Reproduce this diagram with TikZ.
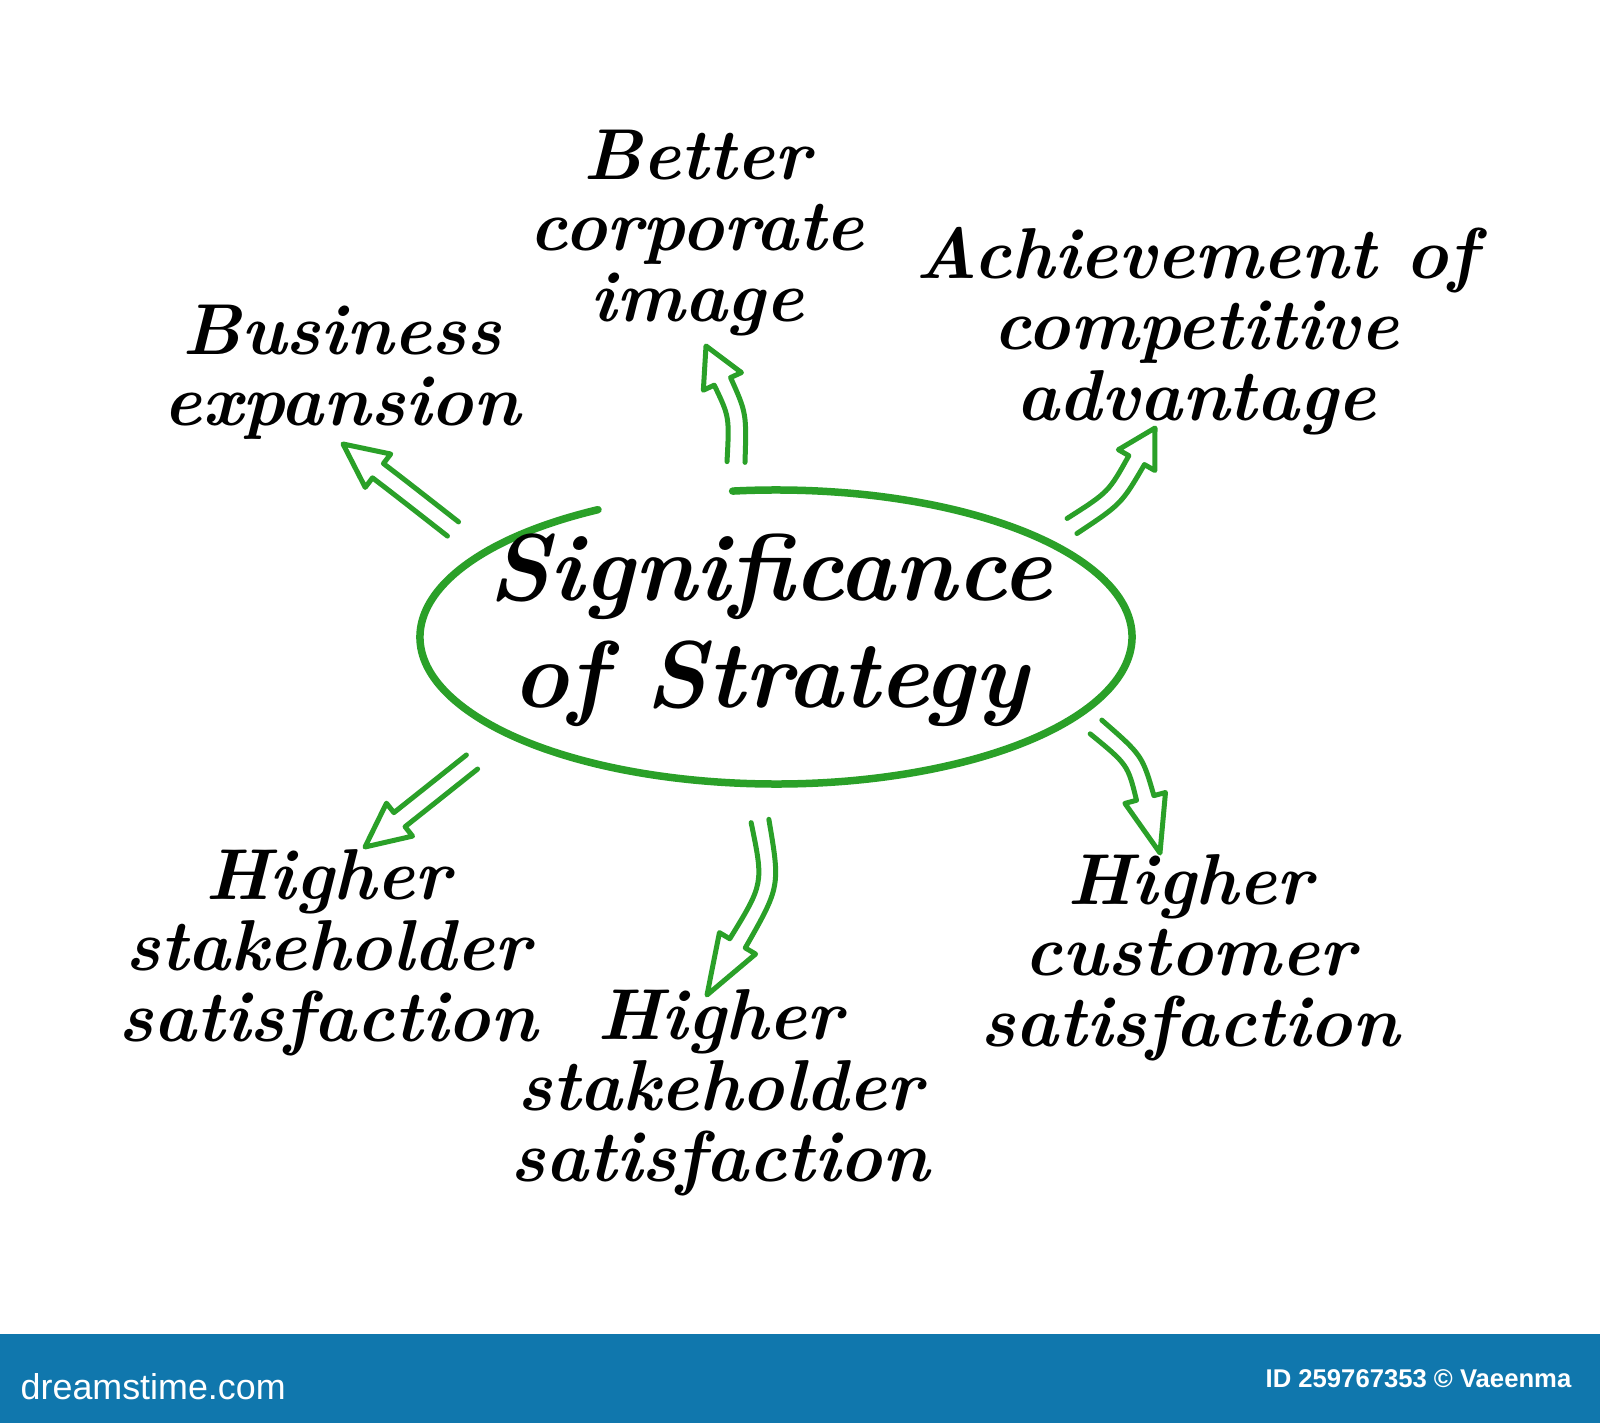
\documentclass[tikz,border=0pt]{standalone}
\usepackage{fontspec}
\setmainfont{Latin Modern Roman}
\setsansfont{Liberation Sans}
\usetikzlibrary{calc}
\definecolor{grn}{RGB}{42,160,40}
\definecolor{bannerblue}{RGB}{16,119,173}
\tikzset{
  lbl/.style={font=\fontsize{20.5}{20.2}\selectfont\bfseries\itshape, align=center, inner sep=0pt, text=black},
  ttl/.style={font=\fontsize{27}{30.4}\selectfont\bfseries\itshape, align=center, inner sep=0pt, text=black},
  harrowline/.style={draw=grn, line width=0.5mm, line join=round, line cap=round},
  ring/.style={draw=grn, line width=0.75mm, line cap=round},
  bannertext/.style={text=white, inner sep=0pt},
}
% #1 tail, #2 bend control, #3 tip, #4 head length
\newcommand\hollowarrow[4]{%
  \coordinate (hb) at ($(#3)!#4!(#2)$);
  \coordinate (ta) at ($(#1)!0.9mm!90:(#2)$);
  \coordinate (tb) at ($(#1)!0.9mm!-90:(#2)$);
  \coordinate (ba) at ($(hb)!0.9mm!-90:(#2)$);
  \coordinate (bb) at ($(hb)!0.9mm!90:(#2)$);
  \coordinate (ha) at ($(hb)!2.1mm!-90:(#2)$);
  \coordinate (hc) at ($(hb)!2.1mm!90:(#2)$);
  \coordinate (ca) at ($(#2)+0.5*(ta)-0.5*(#1)+0.5*(ba)-0.5*(hb)$);
  \coordinate (cb) at ($(#2)+0.5*(tb)-0.5*(#1)+0.5*(bb)-0.5*(hb)$);
  \draw[harrowline] (ta) .. controls (ca) .. (ba) -- (ha) -- (#3) -- (hc) -- (bb) .. controls (cb) .. (tb);
}
\begin{document}
\begin{tikzpicture}[x=0.1mm,y=-0.1mm]
\fill[white] (0,0) rectangle (1600,1423);
\useasboundingbox (0,0) rectangle (1600,1423);

% centre
\coordinate (ec) at (776,637);
\draw[ring] ($(ec)+(120:35.6mm and 14.7mm)$) arc[start angle=120, end angle=457, x radius=35.6mm, y radius=14.7mm];
\node[ttl] (ttl) at (770,630) {Significance\\of Strategy};

% labels
\node[lbl] (bus) at (342,372) {Business\\expansion};
\node[lbl] (img) at (697,233) {Better\\corporate\\image};
\node[lbl] (adv) at (1196,331) {Achievement of\\competitive\\advantage};
\node[lbl] (sh1) at (328,953) {Higher\\stakeholder\\satisfaction};
\node[lbl] (sh2) at (720,1093) {Higher\\stakeholder\\satisfaction};
\node[lbl] (cus) at (1190,958) {Higher\\customer\\satisfaction};

% arrow ends
\coordinate (t1) at (453,529); \coordinate (c1) at (398,486); \coordinate (p1) at (343,444);
\coordinate (t2) at (736,462); \coordinate (c2) at (738,415); \coordinate (p2) at (706,346);
\coordinate (t3) at (1072,526); \coordinate (c3) at (1115,498); \coordinate (p3) at (1155,428);
\coordinate (t4) at (472,762); \coordinate (c4) at (418,805); \coordinate (p4) at (365,847);
\coordinate (t5) at (760,821); \coordinate (c5) at (772,885); \coordinate (p5) at (707,995);
\coordinate (t6) at (1096,727); \coordinate (c6) at (1135,760); \coordinate (p6) at (1160,853);

\hollowarrow{t1}{c1}{p1}{4.4mm}
\hollowarrow{t2}{c2}{p2}{3.9mm}
\hollowarrow{t3}{c3}{p3}{3.7mm}
\hollowarrow{t4}{c4}{p4}{4.4mm}
\hollowarrow{t5}{c5}{p5}{6.0mm}
\hollowarrow{t6}{c6}{p6}{5.7mm}

% banner
\fill[bannerblue] (0,1334) rectangle (1600,1423);
\node[bannertext, anchor=west, font=\sffamily\fontsize{10.2}{12}\selectfont] (dt) at (20,1387) {dreamstime.com};
\node[bannertext, anchor=east, font=\sffamily\bfseries\fontsize{7.3}{9}\selectfont] (id) at (1572,1379) {ID 259767353 © Vaeenma};
\end{tikzpicture}
\end{document}
